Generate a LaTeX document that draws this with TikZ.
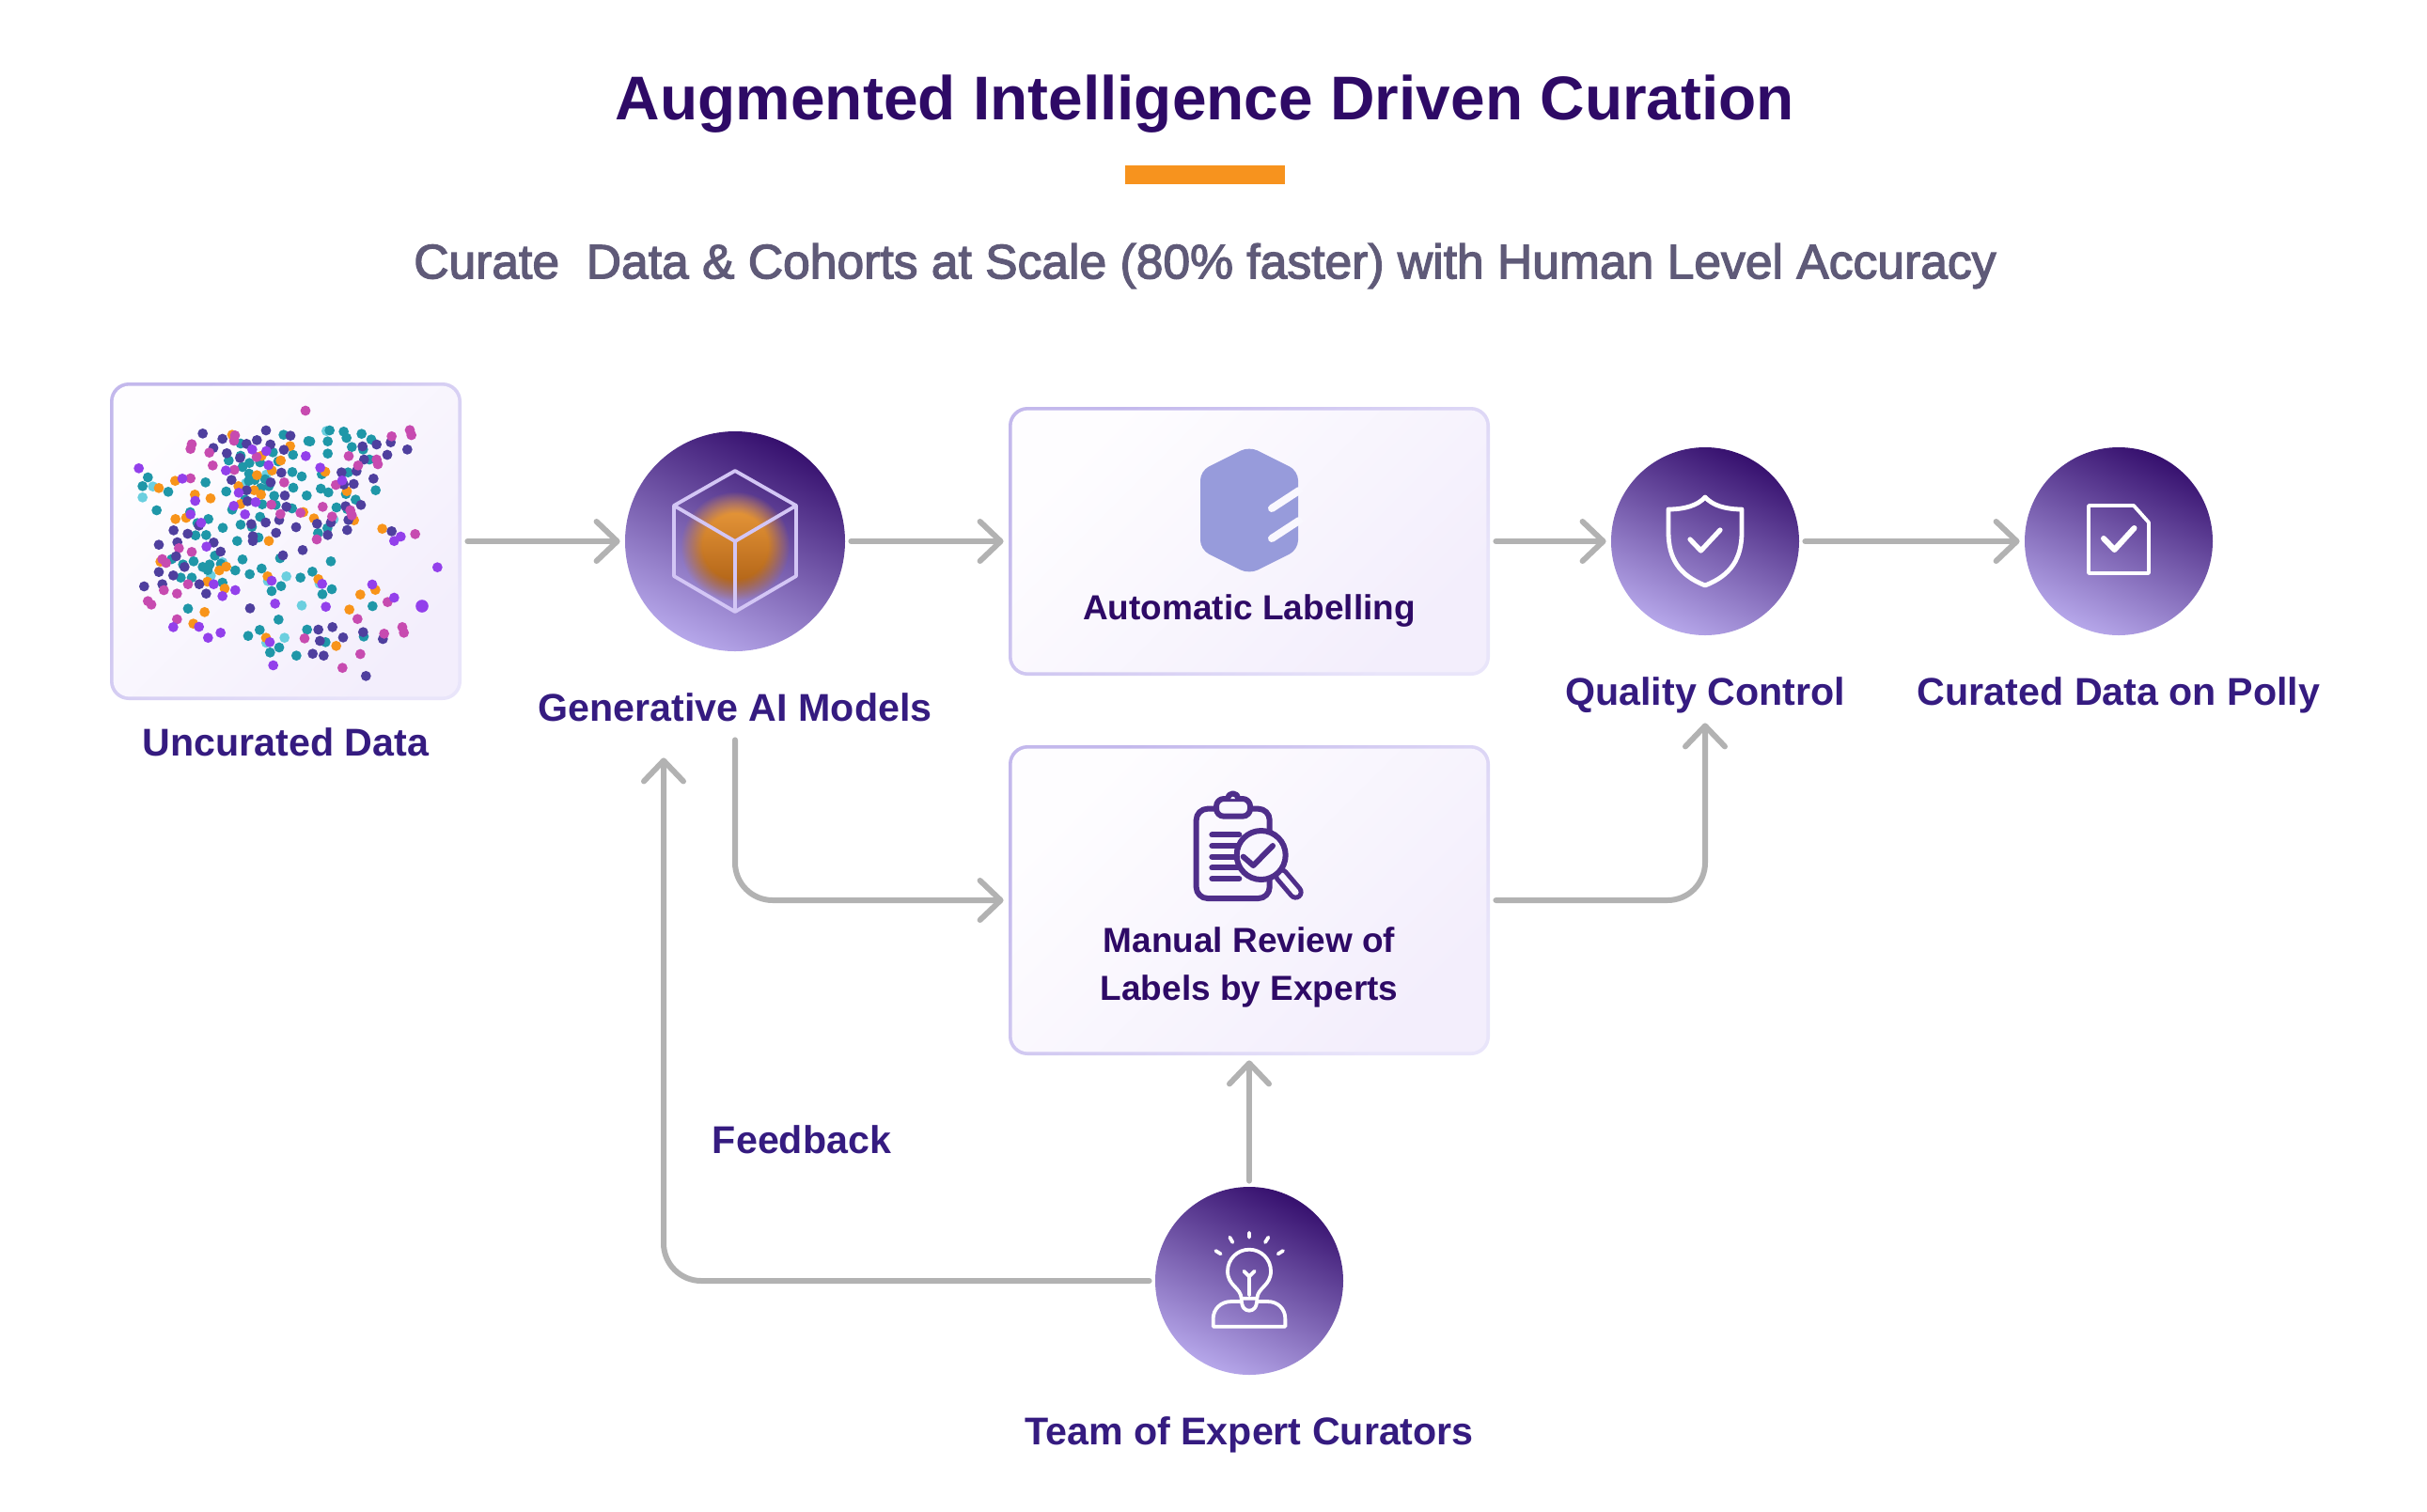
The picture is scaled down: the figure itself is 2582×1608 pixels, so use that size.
\documentclass[tikz,border=0pt]{standalone}
\usepackage{fontspec}
\usetikzlibrary{positioning, arrows.meta, fadings}
\setmainfont{Liberation Sans}
\newfontfamily\subfont[FakeBold=2.5]{Liberation Sans}

\definecolor{inkdark}{HTML}{2E0A66}
\definecolor{inkblue}{HTML}{351B80}
\definecolor{inkgrey}{HTML}{5F5A78}
\definecolor{flowgrey}{HTML}{B2B2B2}
\definecolor{barorange}{HTML}{F7931E}
\definecolor{discdark}{HTML}{36106E}
\definecolor{disclight}{HTML}{B6A7EA}
\definecolor{rimdark}{HTML}{C3B8EC}
\definecolor{rimlight}{HTML}{E9E5FA}
\definecolor{facelight}{HTML}{FEFDFF}
\definecolor{facedark}{HTML}{F3EEFC}
\definecolor{slitface}{HTML}{F9F7FE}
\definecolor{hexblue}{HTML}{979BDB}
\definecolor{iconpurple}{HTML}{4F2E8A}
\definecolor{cubeline}{HTML}{D3C6F5}
\definecolor{glowtop}{HTML}{F0A040}
\definecolor{glowlow}{HTML}{A85A10}
\definecolor{dotteal}{HTML}{1F97A8}
\definecolor{dotindigo}{HTML}{4F3F9E}
\definecolor{dotpink}{HTML}{C74BB0}
\definecolor{dotviolet}{HTML}{9340EB}
\definecolor{dotorange}{HTML}{F8941A}
\definecolor{dotcyan}{HTML}{6BCFDF}

\pgfdeclareradialshading{softglowshade}{\pgfpointorigin}{color(0bp)=(pgftransparent!0); color(15bp)=(pgftransparent!0); color(25bp)=(pgftransparent!100); color(50bp)=(pgftransparent!100)}
\pgfdeclarefading{softglow}{\pgfuseshading{softglowshade}}

\tikzset{
    panel/.style={rounded corners=10pt, inner sep=0pt, top color=rimdark, bottom color=rimlight, shading angle=45},
    panelface/.style={rounded corners=8.5pt, top color=facelight, bottom color=facedark, shading angle=45},
    disc/.style={circle, inner sep=0pt, minimum size=100pt, top color=discdark, bottom color=disclight, shading angle=-25},
    caption/.style={font=\fontsize{20.6pt}{25.5pt}\selectfont\bfseries, text=inkblue, inner sep=3pt, text height=18pt, text depth=4pt},
    paneltext/.style={font=\fontsize{18.5pt}{25.5pt}\selectfont\bfseries, text=inkdark, align=center},
    flow/.style={draw=flowgrey, line width=3pt, line cap=round, rounded corners=20pt, shorten >=2.5pt, shorten <=3pt, -{Straight Barb[length=11pt, width=21pt, line width=3pt, round]}},
    whiteline/.style={draw=white, line width=2.2pt, line cap=round, line join=round},
    clipline/.style={draw=iconpurple, line width=3pt, line cap=round, line join=round},
    crop/.style 2 args={shift={(#1,#2)}, x=0.16667pt, y=-0.16667pt}
}
\newcommand{\panelinside}[1]{\shade[panelface] ([shift={(2pt,2pt)}]#1.south west) rectangle ([shift={(-2pt,-2pt)}]#1.north east);}
\newcommand{\scatter}[2]{\foreach \x/\y in {#2} \fill[#1] (\x,\y) circle (2.7pt);}

\begin{document}
\begin{tikzpicture}[x=0.5pt, y=-0.5pt, on grid]
        \useasboundingbox (0,0) rectangle (2582,1608);

        %% HEADER
        \node (title) at (1282,110.5) {\fontsize{32.9pt}{36pt}\selectfont\bfseries\color{inkdark}Augmented Intelligence Driven Curation};
        \node[fill=barorange, minimum width=85pt, minimum height=10pt, inner sep=0pt] (bar) at (1282,186) {};
        \node (subtitle) at (1282,283) {\fontsize{25.8pt}{28pt}\selectfont\subfont\color{inkgrey}Curate\ \ Data \& Cohorts at Scale (80\% faster) with Human Level Accuracy};

        %% NODES
        \node[panel, minimum width=187pt, minimum height=169pt] (raw) at (304,576) {};
        \node[disc, minimum size=117pt] (gen) [right=239pt of raw] {};
        \node[panel, minimum width=256pt, minimum height=143pt] (autopanel) [right=273.5pt of gen] {};
        \node[disc] (qc) [right=242.5pt of autopanel] {};
        \node[disc] (polly) [right=220pt of qc] {};
        \node[panel, minimum width=256pt, minimum height=165pt] (manualpanel) [below=191pt of autopanel] {};
        \node[disc] (team) [below=202.5pt of manualpanel] {};
        \panelinside{raw}
        \panelinside{autopanel}
        \panelinside{manualpanel}

        %% CAPTIONS
        \node[caption] (rawlabel) [below=107pt of raw] {Uncurated Data};
        \node[caption] (genlabel) [below=88.5pt of gen] {Generative AI Models};
        \node[caption] (qclabel) [below=80pt of qc] {Quality Control};
        \node[caption] (pollylabel) [below=80pt of polly] {Curated Data on Polly};
        \node[caption] (teamlabel) [below=80pt of team] {Team of Expert Curators};
        \node[caption] (feedback) at (853,1213) {Feedback};
        \node[paneltext] (autotext) [below=37.2pt of autopanel] {Automatic Labelling};
        \node[paneltext] (manualtext) [below=35.7pt of manualpanel] {Manual Review of\\Labels by Experts};

        %% CONNECTORS
        \draw[flow] (raw) -- (gen);
        \draw[flow] (gen) -- (autopanel);
        \draw[flow] (autopanel) -- (qc);
        \draw[flow] (qc) -- (polly);
        \draw[flow] (genlabel.south) |- (manualpanel.west);
        \draw[flow] (manualpanel.east) -| (qclabel.south);
        \draw[flow] (team) -- (manualpanel);
        \draw[flow] (team.west) -| ([xshift=-38pt, yshift=-10pt]genlabel.south);

        %% SCATTER
        \begin{scope}[crop={130}{440}]
            \scatter{dotcyan}{65/268,98/233,460/195,395/222}
            \scatter{dotteal}{515/68,378/96,594/88,481/124,545/132,340/150,378/135,406/158,384/171,440/156,498/153,405/192,543/187,573/201,404/215,423/212,456/210,546/237,442/238,468/232,332/249,266/220,147/250,82/204,65/232,110/309,485/263,589/262,392/275,447/290,490/292,542/303,351/307,440/330,378/355,414/362,321/365,275/337,240/350,217/315,234/389,268/388,367/407,435/396}
            \scatter{dotorange}{351/68,536/104,445/135,506/150,430/197,478/182,169/215,117/238,232/259,282/271,371/232,421/245,443/259,378/289,170/337,204/333,468/407,578/315}
            \scatter{dotindigo}{257/64,320/81,459/54,430/85,537/71,397/97,291/110,473/99,334/127,516/116,376/142,349/212,508/189,474/220,397/245,519/262,400/280,524/298,501/340,458/348,412/353,555/363,491/381,417/392,417/407,164/373,209/384,292/412,176/411,117/419,245/358}
            \scatter{dotpink}{585/-9,222/98,218/113,360/70,357/87,278/125,289/166,429/139,358/180,218/207,517/220,476/291,505/321,569/317,181/430,222/442}
            \scatter{dotviolet}{53/175,192/208,415/115,460/120,586/136,467/165,331/182,372/253,233/279,426/283,356/295,392/322,218/322,252/349,269/425}
        \end{scope}
        \begin{scope}[crop={300}{440}]
            \scatter{dotcyan}{142/56,165/338}
            \scatter{dotteal}{90/89,152/54,197/58,206/78,146/89,254/65,285/83,223/107,146/128,259/115,279/147,127/194,211/188,124/240,148/252,204/257,299/245,235/275,174/300,208/305,115/382,145/366}
            \scatter{dotorange}{138/186,207/248,230/341,102/335,320/368}
            \scatter{dotindigo}{347/92,257/105,302/99,400/115,336/132,262/147,238/184,190/188,292/208,229/225,197/227,252/292,203/296,156/348,212/340,112/352,208/372,146/388,350/376}
            \scatter{dotpink}{350/73,408/53,413/69,213/136,302/147,306/162,243/166,172/228,130/298,218/309,223/325,160/329,111/402,425/385}
            \scatter{dotviolet}{122/173,192/214,379/393,358/407}
        \end{scope}
        \begin{scope}[crop={130}{580}]
            \scatter{dotcyan}{524/100,573/193,518/296,465/115,460/312,283/98,320/55}
            \scatter{dotteal}{158/45,228/52,194/62,296/34,384/46,257/70,279/62,273/80,315/60,361/81,407/93,445/75,504/42,187/104,222/104,320/120,507/131,477/147,569/104,210/203,499/238,439/271,402/290,590/270,501/327,472/343,556/353}
            \scatter{dotorange}{122/53,332/69,310/81,272/117,327/139,464/100,263/214,227/251,459/296}
            \scatter{dotindigo}{314/21,172/36,513/33,576/16,117/86,163/97,199/70,70/132,128/125,246/125,268/155,408/202}
            \scatter{dotpink}{128/45,140/57,210/125,133/144,175/155,82/179,93/190,175/237,582/298}
            \scatter{dotviolet}{292/125,320/163,361/144,477/114,488/187,163/262,245/261,314/280,274/296,471/310,482/384}
        \end{scope}
        \begin{scope}[crop={300}{580}]
            \scatter{dotcyan}{120/123}
            \scatter{dotteal}{156/52,97/85,159/141,129/157,289/195,139/310,261/292}
            \scatter{dotorange}{116/109,250/158,298/143,215/206,173/322}
            \scatter{dotindigo}{116/270,161/262,195/295,121/306,98/347,133/353,259/278,322/300,268/418}
            \scatter{dotpink}{337/182,241/236,326/283,384/262,389/280,250/348,193/392}
            \scatter{dotviolet}{496/71,128/124,288/126,358/168,140/197}
            \fill[dotviolet] (447,195) circle (3.4pt);
        \end{scope}

        %% ICONS
        % cube with the glow inside
        \begin{scope}[shift={(gen)}]
            \shade[top color=glowtop, bottom color=glowlow, path fading=softglow, fit fading=true] (0,5) circle (29pt);
            \draw[draw=cubeline, line width=1.9pt, line join=round] (0,-75) -- (65,-38) -- (65,37) -- (0,75) -- (-65,37) -- (-65,-38) -- cycle (-65,-38) -- (0,0) -- (65,-38) (0,0) -- (0,75);
        \end{scope}
        % hexagon with two slits
        \begin{scope}[shift={(autopanel)}, yshift=16.5pt]
            \fill[hexblue, rounded corners=5pt] (0,-68) -- (52,-42) -- (52,42) -- (0,68) -- (-52,42) -- (-52,-42) -- cycle;
            \draw[draw=slitface, line width=4pt, line cap=round] (24,-2) -- (53,-21) (24,30) -- (53,11);
        \end{scope}
        % clipboard and lens
        \begin{scope}[crop={1070}{790}]
            \draw[clipline, rounded corners=6pt] (608,212) rectangle (842,498);
            \draw[clipline, fill=slitface, rounded corners=4pt] (672,180) rectangle (780,236);
            \draw[clipline, fill=slitface] (708,180) arc (180:360:17);
            \foreach \liney in {295,330,365,400,435} \draw[clipline] (658,\liney) -- (745,\liney);
            \draw[clipline, line width=8.3pt] (880,425) -- (925,478);
            \draw[draw=slitface, line width=3.3pt, line cap=round] (880,425) -- (925,478);
            \draw[clipline, fill=slitface] (815,360) circle (13pt);
            \draw[clipline, line width=3pt] (758,365) -- (790,393) -- (852,330);
        \end{scope}
        % shield
        \begin{scope}[shift={(qc)}]
            \draw[whiteline, line width=2.4pt] (0,-47) .. controls (-8,-38) and (-22,-34) .. (-39,-34) -- (-39,-10) .. controls (-39,18) and (-28,36) .. (0,47) .. controls (28,36) and (39,18) .. (39,-10) -- (39,-34) .. controls (22,-34) and (8,-38) .. (0,-47) -- cycle;
            \draw[whiteline, line width=2.6pt] (-16,-2) -- (-4.5,10) -- (16,-12);
        \end{scope}
        % sheet
        \begin{scope}[shift={(polly)}]
            \draw[whiteline, line width=1.9pt] (-32,-38) -- (16,-38) -- (32,-20) -- (32,34) -- (-32,34) -- cycle;
            \draw[whiteline, line width=3pt] (-16,-3) -- (-4.5,9) -- (16.5,-14);
        \end{scope}
        % head with bulb
        \begin{scope}[crop={1220}{1260}]
            \draw[whiteline, line width=1.9pt] (327,155) -- (327,170) (265,170) -- (274,186) (220,213) -- (236,223) (388,170) -- (378,186) (435,213) -- (419,223);
            \draw[whiteline, line width=1.9pt] (302,365) .. controls (300,330) and (258,325) .. (258,278) arc (180:360:69) .. controls (396,325) and (354,330) .. (352,365) .. controls (352,395) and (340,404) .. (327,404) .. controls (314,404) and (302,395) .. (302,365) -- (352,365);
            \draw[whiteline, line width=1.9pt] (327,355) -- (327,295) (310,278) -- (327,295) -- (344,278);
            \draw[whiteline, line width=1.9pt] (302,375) -- (270,375) .. controls (235,375) and (212,400) .. (212,430) -- (212,455) -- (442,455) -- (442,430) .. controls (442,400) and (420,375) .. (385,375) -- (352,375);
        \end{scope}
    \end{tikzpicture}
\end{document}
